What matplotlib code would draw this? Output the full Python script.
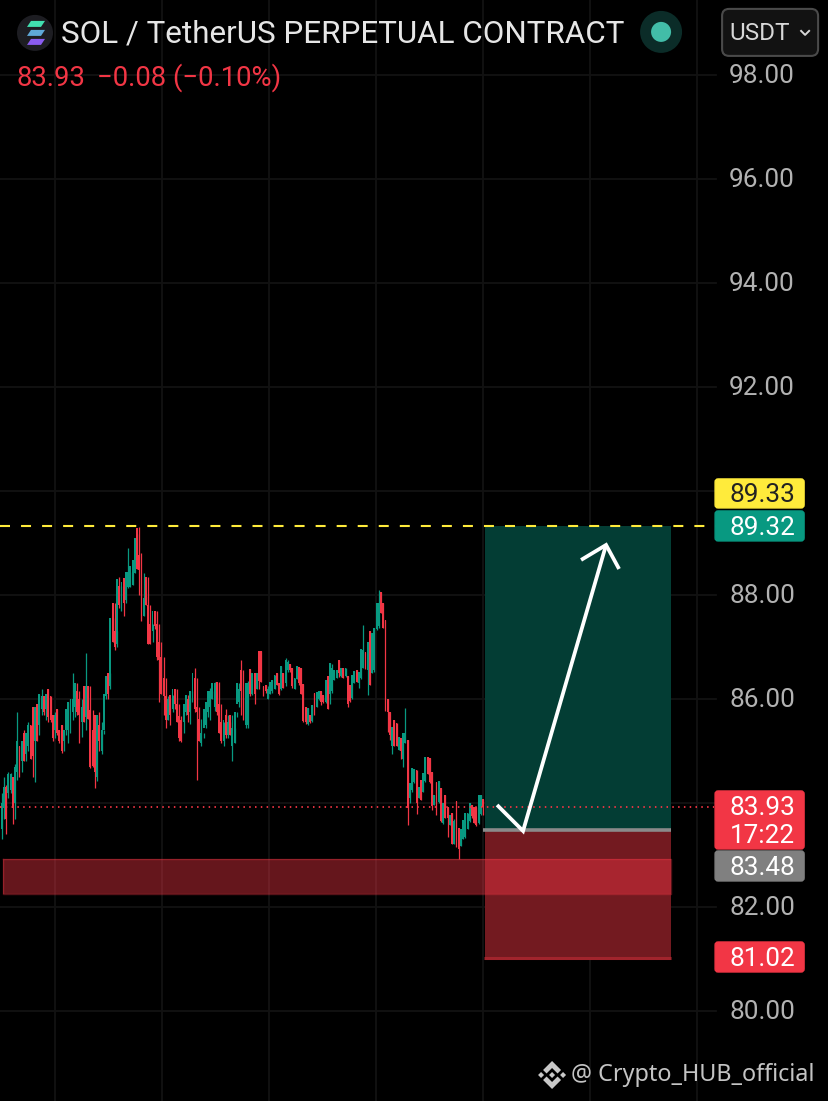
import matplotlib
matplotlib.use("Agg")
import matplotlib.pyplot as plt
from matplotlib.patches import FancyBboxPatch, Polygon, Circle

plt.rcParams['font.family'] = ['Roboto', 'DejaVu Sans']

high = [84.19,84.5,84.35,84.6,84.58,84.5,84.75,85.75,85.1,85.2,
 85.4,85.35,85.55,85.5,85.85,85.85,85.9,86.1,86.2,86.05,
 86.1,86.2,86.05,85.7,85.75,85.8,85.4,85.5,85.4,85.8,
 85.95,86.0,86.5,86.3,86.3,86.15,86.0,85.85,86.88,86.25,
 86.25,85.78,85.4,85.7,85.75,85.55,85.4,86.1,86.5,86.5,
 87.55,87.85,87.3,88.35,88.17,88.25,88.33,88.9,88.45,88.55,
 88.67,89.17,89.3,88.8,88.42,87.98,88.35,87.8,87.45,87.7,
 87.7,87.45,87.1,86.8,86.4,86.05,86.0,86.07,86.2,86.2,
 85.9,85.68,85.6,85.9,86.07,86.0,86.15,86.6,86.4,85.85,
 85.62,85.35,85.8,85.95,86.22,86.15,86.33,86.3,86.32,85.9,
 85.55,85.8,85.7,85.55,85.7,85.45,85.75,86.3,86.75,86.55,
 86.2,86.35,
 86.58,86.5,86.5,86.49,86.93,86.93,86.24,86.27,86.24,86.33,
 86.36,86.46,86.49,86.3,86.63,86.49,86.78,86.75,86.68,86.59,
 86.4,86.63,86.62,86.59,86.28,85.85,85.82,85.69,85.88,86.11,
 86.14,86.15,86.16,86.08,86.36,86.44,86.7,86.68,86.56,86.56,
 86.74,86.59,86.59,86.6,86.44,86.27,86.46,86.54,86.56,86.52,
 86.97,87.42,86.91,87.1,87.31,87.26,87.36,87.84,88.1,88.06,
 87.84,87.52,85.99,85.74,85.47,85.6,85.53,85.26,85.24,85.34,
 85.82,85.21,84.38,84.67,84.65,84.63,84.31,84.45,84.57,84.89,
 84.89,84.86,84.6,84.15,84.41,84.43,84.28,84.0,84.15,83.93,
 83.77,83.81,83.7,84.04,83.51,83.49,83.67,83.81,83.81,84.0,
 83.96,83.93,83.92,84.15,84.15,84.08]
low = [83.3,83.7,83.4,84.1,84.2,83.6,83.7,84.45,84.5,84.6,
 84.8,84.8,85.0,84.85,84.5,84.4,85.2,85.3,85.7,85.7,
 85.6,85.55,85.55,85.2,85.25,85.3,85.15,84.97,85.0,85.3,
 85.15,85.35,85.6,85.65,85.7,85.15,85.27,85.55,85.4,85.62,
 84.67,84.7,84.28,84.43,85.0,84.95,85.33,86.0,86.0,86.2,
 87.1,86.95,87.0,87.75,87.7,87.6,87.85,88.13,88.15,88.2,
 88.42,88.5,88.0,87.5,87.6,87.8,87.05,87.05,87.1,87.35,
 86.75,85.95,86.1,85.7,85.45,85.6,85.5,85.75,85.8,85.55,
 85.2,85.17,85.35,85.7,85.55,85.52,85.95,85.75,84.45,85.2,
 85.1,85.25,85.45,85.65,85.6,86.0,85.77,85.7,85.35,85.15,
 85.1,85.25,85.25,85.3,84.8,85.15,85.65,85.85,85.7,85.6,
 85.45,85.45,
 86.06,86.07,85.9,86.2,86.2,86.33,86.05,86.12,86.0,86.1,
 86.12,86.2,86.27,86.08,86.18,86.22,86.25,86.52,86.52,86.22,
 86.2,86.38,86.27,86.1,85.56,85.52,85.5,85.53,85.56,85.69,
 85.84,85.98,85.88,85.93,85.93,85.8,85.9,86.11,86.36,86.4,
 86.43,86.43,86.4,86.43,85.84,85.95,86.0,86.3,86.33,86.22,
 86.38,86.59,86.57,86.08,86.27,86.49,86.52,87.33,87.36,87.65,
 87.36,85.76,85.37,85.21,84.95,85.1,85.1,85.02,84.84,84.69,
 85.15,83.58,84.0,84.22,84.38,83.78,84.09,84.06,84.22,84.41,
 84.56,84.38,83.86,83.96,83.77,84.0,83.63,83.6,83.72,83.35,
 83.58,83.21,83.21,83.16,82.93,83.17,83.3,83.32,83.49,83.64,
 83.72,83.61,83.55,83.6,83.77,83.77]
opn = [83.5,83.9,84.3,84.2,84.25,84.5,84.0,84.6,85.1,84.8,
 85.35,84.95,85.1,85.5,85.85,85.2,85.9,85.5,85.8,86.05,
 85.8,86.2,86.05,85.7,85.4,85.8,85.4,85.5,85.2,85.4,
 85.4,85.4,85.75,85.85,86.15,86.0,85.55,86.25,85.65,86.25,
 85.78,85.4,85.7,84.5,85.5,85.0,85.4,86.05,86.5,86.25,
 87.85,87.3,87.05,88.17,87.75,88.33,87.9,88.15,88.15,88.2,
 88.42,89.28,88.77,88.42,87.6,88.35,87.8,87.45,87.3,87.7,
 87.45,87.1,86.8,86.4,86.05,85.6,86.07,85.8,86.2,85.9,
 85.68,85.6,85.55,85.75,86.0,85.75,86.0,86.4,85.85,85.62,
 85.15,85.45,85.5,85.75,85.85,86.0,85.85,86.32,85.9,85.55,
 85.2,85.7,85.3,85.7,85.1,85.15,85.9,85.95,86.55,86.2,
 85.5,85.5,
 86.58,86.1,86.5,86.2,86.93,86.93,86.24,86.27,86.0,86.1,
 86.15,86.2,86.49,86.3,86.2,86.49,86.3,86.55,86.68,86.59,
 86.2,86.38,86.62,86.59,86.28,85.85,85.52,85.69,85.58,86.11,
 85.85,86.0,86.16,86.08,85.95,86.44,86.1,86.15,86.36,86.4,
 86.74,86.45,86.59,86.45,86.44,86.27,86.02,86.3,86.56,86.3,
 86.4,86.6,86.91,86.55,87.31,86.5,86.55,87.35,87.4,88.06,
 87.84,87.52,85.99,85.74,85.1,85.6,85.53,85.02,85.24,84.85,
 85.15,85.21,84.1,84.25,84.4,84.63,84.09,84.45,84.22,84.42,
 84.89,84.86,84.6,83.96,84.41,84.02,84.28,83.62,84.15,83.93,
 83.58,83.81,83.22,84.04,83.51,83.18,83.3,83.35,83.5,83.65,
 83.96,83.93,83.92,83.62,83.78,84.08]
cls = [84.0,84.3,83.7,84.55,84.55,83.9,84.7,85.2,84.6,85.2,
 84.8,85.35,85.5,84.85,84.9,85.85,85.2,86.1,86.05,85.75,
 86.1,85.65,85.6,85.25,85.7,85.35,85.2,85.0,85.4,85.8,
 85.95,86.0,86.0,86.3,85.75,85.7,85.85,85.55,86.25,85.62,
 84.7,84.72,84.6,85.7,85.2,85.4,86.1,86.45,86.1,87.55,
 87.1,87.0,88.3,87.8,88.25,87.85,88.45,88.45,88.55,88.67,
 89.1,88.5,88.48,87.7,87.95,87.8,87.05,87.05,87.7,87.4,
 86.8,86.75,86.1,86.05,85.6,86.0,85.7,86.2,85.9,85.55,
 85.25,85.2,85.9,86.07,85.7,86.15,86.5,85.8,85.75,85.2,
 85.35,85.8,85.95,86.15,86.15,86.3,86.3,85.75,85.35,85.2,
 85.6,85.3,85.55,85.3,85.45,85.75,86.3,86.2,86.15,85.8,
 86.3,86.3,
 86.1,86.5,86.1,86.49,86.35,86.33,86.05,86.15,86.2,86.33,
 86.36,86.46,86.27,86.1,86.63,86.22,86.75,86.72,86.55,86.25,
 86.4,86.63,86.3,86.1,85.58,85.55,85.82,85.55,85.88,85.69,
 86.14,86.15,85.95,85.95,86.36,85.8,86.7,86.6,86.55,86.55,
 86.5,86.59,86.4,86.6,85.9,85.97,86.46,86.54,86.33,86.52,
 86.97,86.95,86.57,87.1,86.27,87.26,87.36,87.84,87.85,87.65,
 87.36,86.0,85.75,85.3,85.47,85.1,85.1,85.26,85.0,85.34,
 85.35,83.9,84.38,84.67,84.65,84.0,84.31,84.06,84.57,84.89,
 84.56,84.4,83.95,84.15,83.9,84.43,83.65,84.0,83.72,83.72,
 83.77,83.22,83.65,83.16,83.12,83.49,83.67,83.81,83.81,84.0,
 83.75,83.62,83.57,84.15,84.15,83.93]

n = min(len(high), len(low), len(opn), len(cls))

price_ticks = [98, 96, 94, 92, 90, 88, 86, 84, 82, 80]
tick_labels = ["98.00", "96.00", "94.00", "92.00", "", "88.00", "86.00", "", "82.00", "80.00"]
target_price = 89.32
resistance_price = 89.33
entry_price = 83.48
stop_price = 81.02
last_price = 83.93
zone_top, zone_bottom = 82.92, 82.25

W, H = 828, 1101
PX_PER_UNIT = 52.0
X0, DX = 1.7, 2.218
BG = "#000000"
GREEN, RED = "#089981", "#f23645"
GRID = "#121212"
LABEL = "#b2b2b2"

def ix(px):
    return (px - X0) / DX

def py(p):
    return 75 + (98 - p) * PX_PER_UNIT

fig = plt.figure(figsize=((W + 0.1) / 100, (H + 0.1) / 100), dpi=100, facecolor=BG)
ax = fig.add_axes([0, 0, 1, 1], facecolor=BG)
ax.set_xlim(-X0 / DX, (W - X0) / DX)
ax.set_ylim(98 - (H - 75) / PX_PER_UNIT, 98 + 75 / PX_PER_UNIT)
ax.axis("off")

ui = fig.add_axes([0, 0, 1, 1], facecolor="none", zorder=5)
ui.set_xlim(0, W)
ui.set_ylim(H, 0)
ui.axis("off")

# grid
for p in price_ticks:
    ax.plot([ix(0), ix(716)], [p, p], color=GRID, lw=1.3, zorder=1)
for vx in [55, 162, 269, 376, 483, 590, 697]:
    ax.plot([ix(vx), ix(vx)], ax.get_ylim(), color=GRID, lw=1.3, zorder=1)

# position boxes
ax.fill_between([ix(485), ix(671)], entry_price, target_price, color="#033d34", lw=0, zorder=2)
ax.fill_between([ix(485), ix(671)], stop_price, entry_price, color="#731a20", lw=0, zorder=2)
ax.plot([ix(484), ix(671)], [stop_price] * 2, color="#a1242c", lw=2.2, zorder=2.2, solid_capstyle="butt")
ax.plot([ix(483), ix(671)], [entry_price] * 2, color="#8a8a8a", lw=2.6, zorder=2.3, solid_capstyle="butt")

# candles
for i in range(n):
    c = GREEN if cls[i] >= opn[i] else RED
    ax.plot([i, i], [low[i], high[i]], color=c, lw=0.9, zorder=3, solid_capstyle="butt")
    ax.bar(i, abs(cls[i] - opn[i]), bottom=min(cls[i], opn[i]), width=0.85, color=c, lw=0, zorder=3.1)

# demand zone
ax.fill_between([ix(3), ix(671)], zone_bottom, zone_top, color=RED, alpha=0.42, lw=0, zorder=4)
ax.plot([ix(3), ix(671), ix(671), ix(3), ix(3)],
        [zone_top, zone_top, zone_bottom, zone_bottom, zone_top],
        color=RED, alpha=0.35, lw=1, zorder=4.1)

# level lines
ax.plot([ix(0), ix(716)], [resistance_price] * 2, color="#ffeb3b", lw=1.5, dashes=(4.8, 5.3), zorder=4.5)
ax.plot([ix(0), ix(714)], [last_price] * 2, color=RED, lw=1.3, dashes=(0.83, 2.38), zorder=4.5)

# arrow
ui.plot([497, 523, 606], [805, 831, 545], color="white", lw=2.7, solid_joinstyle="miter", solid_capstyle="butt")
ui.plot([581, 606, 619], [560, 545, 569], color="white", lw=2.7, solid_joinstyle="miter", solid_capstyle="butt")

# axis labels
FS = 18.8
for p, lab in zip(price_ticks, tick_labels):
    if lab:
        ui.text(762, py(p) + 1, lab, color=LABEL, fontsize=FS, ha="center", va="center")

def tag(y0, y1, color):
    ui.add_patch(FancyBboxPatch((715, y0 + 1), 89, y1 - y0 - 2, boxstyle="round,pad=0,rounding_size=3",
                                fc=color, ec=color, lw=1))

tag(478, 509, "#ffeb3b")
ui.text(762, 495, "89.33", color="#222222", fontsize=FS, ha="center", va="center")
tag(510, 542, GREEN)
ui.text(762, 528, "89.32", color="white", fontsize=FS, ha="center", va="center")
tag(790, 850, RED)
ui.text(762, 808, "83.93", color="white", fontsize=FS, ha="center", va="center")
ui.text(762, 836, "17:22", color="white", fontsize=FS, ha="center", va="center")
tag(850, 882, "#808080")
ui.text(762, 868, "83.48", color="white", fontsize=FS, ha="center", va="center")
tag(941, 973, RED)
ui.text(762, 959, "81.02", color="white", fontsize=FS, ha="center", va="center")

# header
ui.add_patch(Circle((35, 33), 18, fc="#1d1d22", ec="none"))
for y, col in [(24, "#41e0b0"), (33, "#5fa8d8"), (42, "#8a5cf0")]:
    ui.add_patch(Polygon([(27, y + 3), (41, y + 3), (45, y - 3), (31, y - 3)], fc=col, ec="none"))
ui.text(61, 34, "SOL / TetherUS PERPETUAL CONTRACT", color="#e6e6e6", fontsize=22.6, ha="left", va="center")
ui.text(16, 78, "83.93", color=RED, fontsize=19.8, ha="left", va="center")
ui.text(97, 78, "\u22120.08 (\u22120.10%)", color=RED, fontsize=19.8, ha="left", va="center")
ui.add_patch(Circle((661, 32), 21, fc="#0b2c28", ec="none"))
ui.add_patch(Circle((661, 32), 10, fc="#42bda8", ec="none"))
ui.add_patch(FancyBboxPatch((722, 9), 96, 47, boxstyle="round,pad=0,rounding_size=7",
                            fc="#121212", ec="#4a4a4a", lw=1.5))
ui.text(729, 33, "USDT", color="#d8d8d8", fontsize=17.5, ha="left", va="center")
ui.plot([801, 805, 809], [31, 35, 31], color="#d8d8d8", lw=1.4)

# watermark
GR = "#c8c8c8"
ui.add_patch(Polygon([(552, 1061), (561, 1070), (557.5, 1073.5), (552, 1068), (546.5, 1073.5), (543, 1070)], fc=GR, ec="none"))
ui.add_patch(Polygon([(552, 1089), (561, 1080), (557.5, 1076.5), (552, 1082), (546.5, 1076.5), (543, 1080)], fc=GR, ec="none"))
for cx, s in [(541, 3), (552, 3), (563, 3)]:
    ui.add_patch(Polygon([(cx - s, 1075), (cx, 1075 - s), (cx + s, 1075), (cx, 1075 + s)], fc=GR, ec="none"))
ui.text(571, 1075, "@ Crypto_HUB_official", color="#c4c4c4", fontsize=16.8, ha="left", va="center",
        family=["Noto Sans", "DejaVu Sans"])

fig.savefig("out.png", dpi=100, facecolor=BG)
